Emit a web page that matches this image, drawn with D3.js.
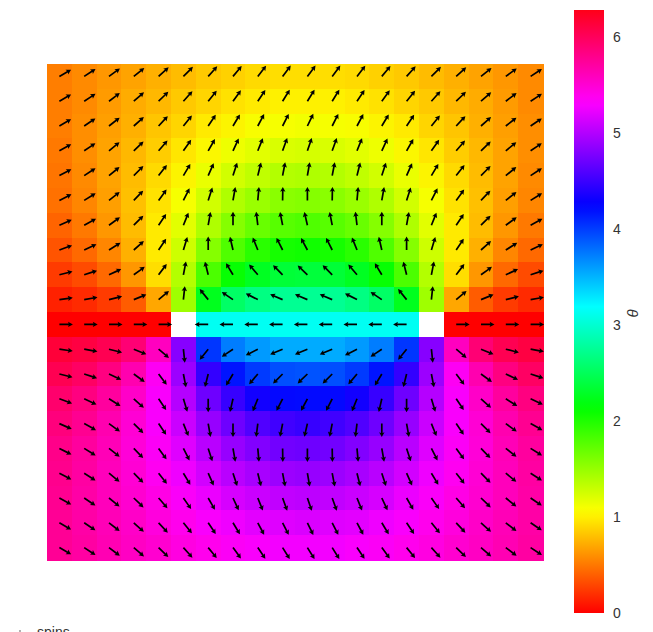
<!DOCTYPE html>
<html>
<head>
<meta charset="utf-8">
<script src="https://cdn.jsdelivr.net/npm/d3@7"></script>
<style>
  body { margin: 0; background: #fff; }
  svg { display: block; font-family: "Liberation Sans", Arial, sans-serif; }
</style>
</head>
<body>
<div id="viz"></div>
<script>
// spin angle per cell, degrees; rows top -> bottom, columns left -> right; null = empty cell
const thetaDeg = [
  [30, 33, 36, 39, 42, 45, 48, 50, 52, 53, 53, 53, 52, 50, 48, 45, 42, 39, 36, 33],
  [30, 33, 37, 41, 44, 48, 51, 54, 56, 58, 58, 58, 56, 54, 51, 48, 44, 41, 37, 33],
  [30, 34, 38, 42, 47, 51, 56, 59, 62, 63, 64, 63, 62, 59, 56, 51, 47, 42, 38, 34],
  [29, 34, 39, 44, 49, 55, 60, 65, 68, 70, 71, 70, 68, 65, 60, 55, 49, 44, 39, 34],
  [28, 33, 39, 45, 52, 59, 66, 72, 76, 79, 80, 79, 76, 72, 66, 59, 52, 45, 39, 33],
  [27, 32, 38, 46, 54, 63, 72, 80, 85, 89, 90, 89, 85, 80, 72, 63, 54, 46, 38, 32],
  [24, 29, 36, 45, 56, 68, 80, 90, 97, 101, 103, 101, 97, 90, 80, 68, 56, 45, 36, 29],
  [20, 25, 32, 42, 56, 73, 90, 103, 112, 117, 118, 117, 112, 103, 90, 73, 56, 42, 32, 25],
  [14, 18, 25, 36, 53, 79, 104, 121, 130, 135, 136, 135, 130, 121, 104, 79, 53, 36, 25, 18],
  [8, 10, 14, 22, 40, 84, 129, 146, 153, 157, 157, 157, 153, 146, 129, 84, 40, 22, 14, 10],
  [0, 0, 0, 0, 0, null, 180, 180, 180, 180, 180, 180, 180, 180, 180, null, 0, 0, 0, 0],
  [352, 350, 346, 338, 320, 276, 231, 214, 207, 203, 203, 203, 207, 214, 231, 276, 320, 338, 346, 350],
  [346, 342, 335, 324, 307, 281, 256, 239, 230, 225, 224, 225, 230, 239, 256, 281, 307, 324, 335, 342],
  [340, 335, 328, 318, 304, 287, 270, 257, 248, 243, 242, 243, 248, 257, 270, 287, 304, 318, 328, 335],
  [336, 331, 324, 315, 304, 292, 280, 270, 263, 259, 257, 259, 263, 270, 280, 292, 304, 315, 324, 331],
  [333, 328, 322, 314, 306, 297, 288, 280, 275, 271, 270, 271, 275, 280, 288, 297, 306, 314, 322, 328],
  [332, 327, 321, 315, 308, 301, 294, 288, 284, 281, 280, 281, 284, 288, 294, 301, 308, 315, 321, 327],
  [331, 326, 321, 316, 311, 305, 300, 295, 292, 290, 289, 290, 292, 295, 300, 305, 311, 316, 321, 326],
  [330, 326, 322, 318, 313, 309, 304, 301, 298, 297, 296, 297, 298, 301, 304, 309, 313, 318, 322, 326],
  [330, 327, 323, 319, 316, 312, 309, 306, 304, 302, 302, 302, 304, 306, 309, 312, 316, 319, 323, 327]
];
const colorTicks = [0, 1, 2, 3, 4, 5, 6];
const colorLabel = 'θ';
const legendLabel = 'spins';

const width = 653;
const height = 632;

// matplotlib "hsv" colormap control points
const hsvR = [[0, 1], [0.15873, 1], [0.174603, 0.96875], [0.333333, 0.03125], [0.349206, 0], [0.666667, 0], [0.68254, 0.03125], [0.84127, 0.96875], [0.857143, 1], [1, 1]];
const hsvG = [[0, 0], [0.15873, 0.9375], [0.174603, 1], [0.507937, 1], [0.666667, 0.0625], [0.68254, 0], [1, 0]];
const hsvB = [[0, 0], [0.333333, 0], [0.349206, 0.0625], [0.507937, 1], [0.84127, 1], [0.857143, 0.9375], [1, 0.09375]];
const chan = pts => d3.scaleLinear().domain(pts.map(p => p[0])).range(pts.map(p => p[1])).clamp(true);
const cR = chan(hsvR), cG = chan(hsvG), cB = chan(hsvB);
const cmap = t => d3.rgb(255 * cR(t), 255 * cG(t), 255 * cB(t)).formatHex();

const svg = d3.select('#viz')
    .append('svg')
    .attr('width', width)
    .attr('height', height);

const x = d3.scaleBand().domain(d3.range(20)).range([47, 543]);
const y = d3.scaleBand().domain(d3.range(20)).range([64, 560]);
const t = d3.scaleLinear().domain([0, 360]).range([0, 1]);

const cells = [];
thetaDeg.forEach((row, r) => row.forEach((v, c) => cells.push({ r, c, v })));

svg.append('g')
    .selectAll('rect')
    .data(cells)
    .join('rect')
    .attr('x', d => x(d.c))
    .attr('y', d => y(d.r))
    .attr('width', x.bandwidth() + 0.5)
    .attr('height', y.bandwidth() + 0.5)
    .attr('fill', d => d.v === null ? '#fff' : cmap(t(d.v)))
    .attr('shape-rendering', 'crispEdges');

// quiver arrows, tail at the cell centre
const L = 13.5;
const arrowPath = `M0,-0.85 L${L - 4.2},-0.85 L${L - 4.9},-2.7 L${L},0 L${L - 4.9},2.7 L${L - 4.2},0.85 L0,0.85 Z`;

svg.append('g')
    .selectAll('path')
    .data(cells.filter(d => d.v !== null))
    .join('path')
    .attr('d', arrowPath)
    .attr('fill', '#000')
    .attr('transform', d => `translate(${x(d.c) + x.bandwidth() / 2} ${y(d.r) + y.bandwidth() / 2}) rotate(${-d.v})`);

// colorbar
const cbX = 574, cbW = 30;
const cb = d3.scaleLinear().domain([0, 2 * Math.PI]).range([613, 10]);

const grad = svg.append('defs').append('linearGradient')
    .attr('id', 'cbgrad')
    .attr('x1', 0).attr('y1', 1).attr('x2', 0).attr('y2', 0);
const stopPts = Array.from(new Set([...hsvR, ...hsvG, ...hsvB].map(p => p[0]))).sort((a, b) => a - b);
grad.selectAll('stop')
    .data(stopPts)
    .join('stop')
    .attr('offset', d => d)
    .attr('stop-color', d => cmap(d));

svg.append('rect')
    .attr('x', cbX)
    .attr('y', cb(2 * Math.PI))
    .attr('width', cbW)
    .attr('height', cb(0) - cb(2 * Math.PI))
    .attr('fill', 'url(#cbgrad)');

const axis = svg.append('g')
    .attr('transform', `translate(${cbX + cbW} 0)`)
    .call(d3.axisRight(cb).tickValues(colorTicks).tickFormat(d3.format('d')).tickSize(0).tickPadding(9));
axis.select('.domain').remove();
axis.selectAll('text')
    .attr('font-size', 14)
    .attr('fill', '#333')
    .attr('font-family', '"Liberation Sans", Arial, sans-serif');

svg.append('text')
    .attr('transform', `translate(638 ${cb(Math.PI) + 2}) rotate(-90)`)
    .attr('text-anchor', 'middle')
    .attr('font-size', 15)
    .attr('font-style', 'italic')
    .attr('fill', '#333')
    .text(colorLabel);

// legend (partly outside the picture, as in the original)
const legend = svg.append('g');
legend.append('circle')
    .attr('cx', 20)
    .attr('cy', 631)
    .attr('r', 1)
    .attr('fill', '#999');
legend.append('text')
    .attr('x', 37)
    .attr('y', 637)
    .attr('font-size', 14)
    .attr('fill', '#333')
    .text(legendLabel);
</script>
</body>
</html>
